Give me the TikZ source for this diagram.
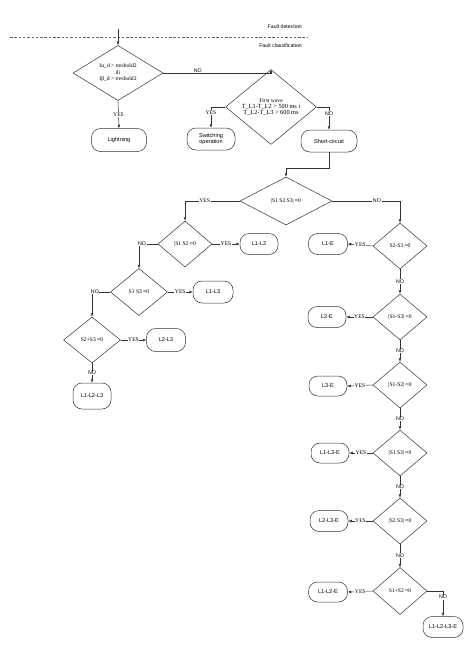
\documentclass[tikz,border=0pt]{standalone}
\usepackage{fontspec}
\setmainfont{Liberation Serif}
\newfontfamily\sansf{Liberation Sans}
\usetikzlibrary{shapes.geometric,arrows.meta}
\tikzset{
  ln/.style={draw=black!80, line width=0.5pt},
  arr/.style={ln, -{Latex[length=3.5pt,width=2.8pt]}},
  dec/.style={ln, shape=diamond, inner sep=0pt, align=center, font=\fontsize{5.6}{6.4}\selectfont},
  term/.style={ln, rounded corners=9pt, inner sep=0pt, align=center, font=\sansf\fontsize{5.6}{6.6}\selectfont},
  yes/.style={fill=white, inner sep=0.6pt, font=\fontsize{5.6}{6}\selectfont},
  no/.style={fill=white, inner sep=0.6pt, font=\sansf\fontsize{5.3}{6}\selectfont},
  hdr/.style={anchor=east, inner sep=0pt, font=\sansf\fontsize{5.2}{6}\selectfont}
}
\begin{document}
\begin{tikzpicture}[x=1pt,y=-1pt]
\useasboundingbox (0,0) rectangle (474,646);
% header
\coordinate (dl) at (10,37);
\coordinate (dr) at (308,37);
\draw[draw=black!60, line width=0.4pt, dash pattern=on 2.5pt off 1.8pt] (dl) -- (dr);
\node[hdr] (fd) at (302,27) {Fault detection};
\node[hdr] (fc) at (302,46) {Fault classification};
\coordinate (start) at (118,29);

% top level
\node[dec, minimum width=90pt, minimum height=46pt] (D1) at (118,73)
  {Iα\_d > treshold2\\ili\\Iβ\_d > treshold2};
\node[term, minimum width=55pt, minimum height=23pt] (light) at (119,140) {Lightning};
\node[dec, minimum width=91pt, minimum height=46pt] (D2) at (271,107)
  {First wave\\[-0.5pt]{\fontsize{6.3}{6.8}\selectfont T\_L1-T\_L2 > 500 ms i}\\[-0.5pt]{\fontsize{6.3}{6.8}\selectfont T\_L2-T\_L3 > 600 ms}};
\node[term, minimum width=48pt, minimum height=22pt] (switch) at (211,139) {Switching\\operation};
\node[term, minimum width=56pt, minimum height=22pt] (short) at (329,141) {Short-circuit};
\node[dec, minimum width=92pt, minimum height=48pt] (D3) at (286,201) {|S1 S2 S3| ≈0};

% left branch
\node[dec, minimum width=54pt, minimum height=46pt] (D4) at (185,244) {|S1 S2 ≈0};
\node[term, minimum width=38pt, minimum height=21pt] (L12) at (259,244) {L1-L2};
\node[dec, minimum width=57pt, minimum height=47pt] (D6) at (139,292) {S1 S3 ≈0};
\node[term, minimum width=40pt, minimum height=22pt] (L13) at (213,292) {L1-L3};
\node[dec, minimum width=57pt, minimum height=46pt] (D7) at (92,340) {S2+S3 ≈0};
\node[term, minimum width=39pt, minimum height=23pt] (L23) at (166,340) {L2-L3};
\node[term, minimum width=38pt, minimum height=26pt] (L123) at (92,396) {L1-L2-L3};

% right branch
\node[dec, minimum width=54pt, minimum height=46pt] (D5) at (400,246) {S2-S3 ≈0};
\node[dec, minimum width=54pt, minimum height=46pt] (D8) at (400,317) {|S1-S3| ≈0};
\node[dec, minimum width=54pt, minimum height=46pt] (D9) at (400,385) {|S1-S2| ≈0};
\node[dec, minimum width=54pt, minimum height=46pt] (D10) at (400,453) {|S1 S3| ≈0};
\node[dec, minimum width=54pt, minimum height=46pt] (D11) at (400,521) {|S2 S3| ≈0};
\node[dec, minimum width=54pt, minimum height=47pt] (D12) at (400,591) {S1+S2 ≈0};
\node[term, minimum width=39pt, minimum height=21pt] (L1E) at (328,244) {L1-E};
\node[term, minimum width=38pt, minimum height=21pt] (L2E) at (327,317) {L2-E};
\node[term, minimum width=38pt, minimum height=20pt] (L3E) at (328,386) {L3-E};
\node[term, minimum width=38pt, minimum height=20pt] (L13E) at (330,453) {L1-L3-E};
\node[term, minimum width=38pt, minimum height=21pt] (L23E) at (329,521) {L2-L3-E};
\node[term, minimum width=39pt, minimum height=20pt] (L12E) at (328,592) {L1-L2-E};
\node[term, minimum width=40pt, minimum height=21pt] (L123E) at (443,627) {L1-L2-L3-E};

% connectors
\draw[arr] (start) -- (D1.north);
\draw[arr] (D1.east) -| node[no, pos=0.16, above, fill=none] {NO} (D2.north);
\draw[arr] (D1.south) -- node[yes] {YES} (light.north);
\draw[arr] (D2.west) -| node[yes, pos=0.64] {YES} (switch.north);
\draw[arr] (D2.east) -| node[no, pos=0.64] {NO} (short.north);
\draw[arr] (short.south) -- ++(0,16) -| (D3.north);
\draw[arr] (D3.west) -| node[yes, pos=0.32] {YES} (D4.north);
\draw[arr] (D3.east) -| node[no, pos=0.33] {NO} (D5.north);

\draw[arr] (D4.east) -- node[yes] {YES} (L12.west);
\draw[arr] (D4.west) -| node[no, pos=0.42] {NO} (D6.north);
\draw[arr] (D6.east) -- node[yes] {YES} (L13.west);
\draw[arr] (D6.west) -| node[no, pos=0.42] {NO} (D7.north);
\draw[arr] (D7.east) -- node[yes] {YES} (L23.west);
\draw[arr] (D7.south) -- node[no] {NO} (L123.north);

\draw[arr] (D5.west) -- node[yes] {YES} (L1E.east);
\draw[arr] (D8.west) -- node[yes] {YES} (L2E.east);
\draw[arr] (D9.west) -- node[yes] {YES} (L3E.east);
\draw[arr] (D10.west) -- node[yes] {YES} (L13E.east);
\draw[arr] (D11.west) -- node[yes] {YES} (L23E.east);
\draw[arr] (D12.west) -- node[yes] {YES} (L12E.east);
\draw[arr] (D5.south) -- node[no] {NO} (D8.north);
\draw[arr] (D8.south) -- node[no] {NO} (D9.north);
\draw[arr] (D9.south) -- node[no] {NO} (D10.north);
\draw[arr] (D10.south) -- node[no] {NO} (D11.north);
\draw[arr] (D11.south) -- node[no] {NO} (D12.north);
\draw[arr] (D12.east) -| node[no, pos=0.62] {NO} (L123E.north);
\end{tikzpicture}
\end{document}
